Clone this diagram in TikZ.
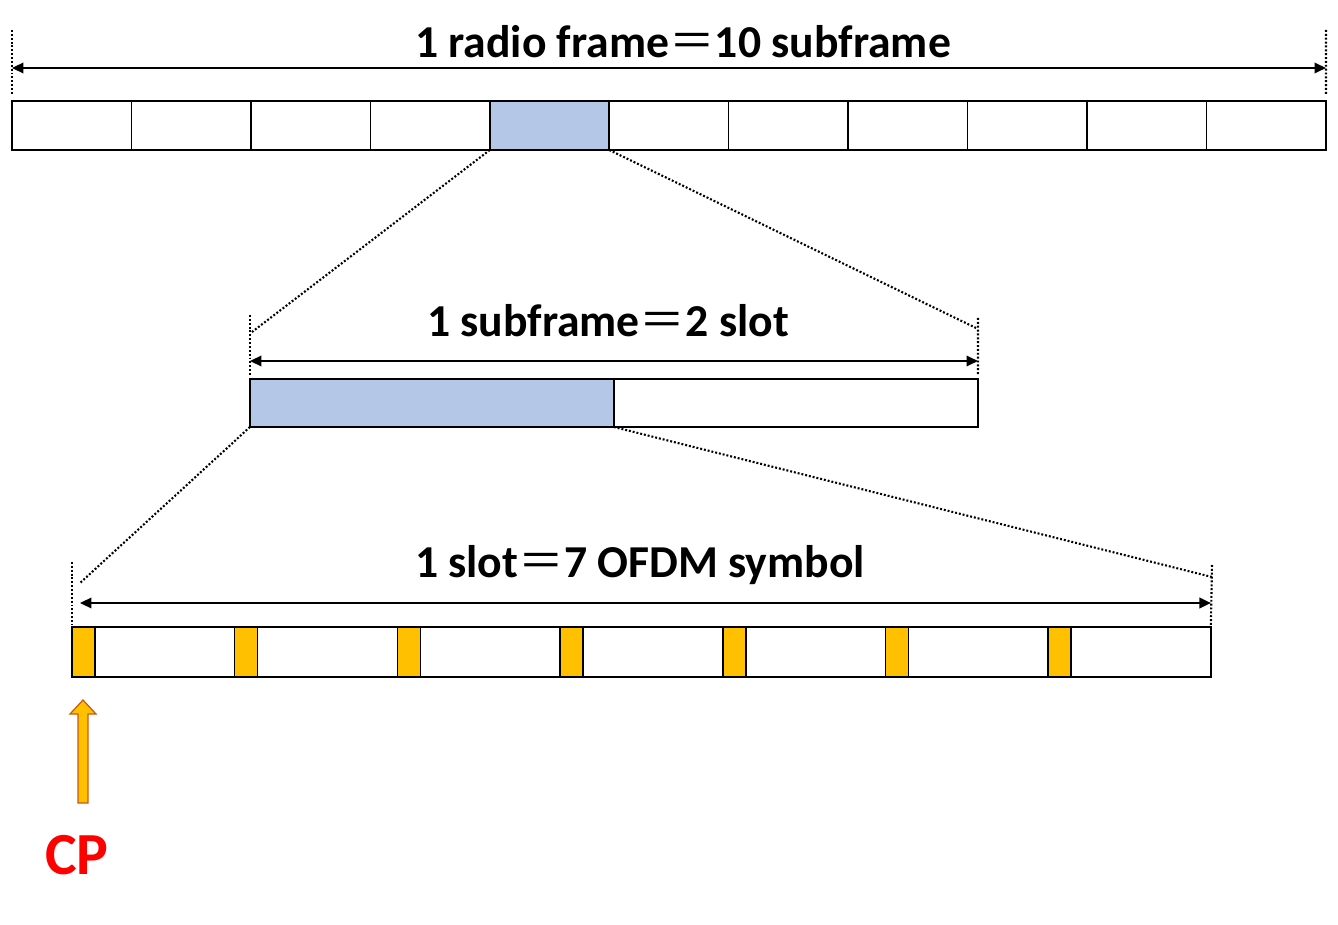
\documentclass[tikz,border=0pt]{standalone}
\usepackage{fontspec}
\setmainfont{Carlito}
\newfontfamily\cjkfont{Noto Sans CJK SC}
\usetikzlibrary{arrows.meta}
\definecolor{slotblue}{HTML}{B4C7E7}
\definecolor{cpyellow}{HTML}{FFC000}
\definecolor{cporange}{HTML}{C55A11}
\newcommand{\fweq}{{\cjkfont\mdseries ＝}}
\begin{document}
\begin{tikzpicture}[x=0.02cm,y=-0.02cm,
	cell/.style={draw,line width=0.85pt,inner sep=0pt,outer sep=0pt,anchor=north west},
	zoomline/.style={line width=1.2pt,dash pattern=on 1.1pt off 1.1pt},
	span/.style={{Triangle[length=6.5pt,width=6pt]}-{Triangle[length=6.5pt,width=6pt]},line width=1pt},
	lbl/.style={font=\bfseries\fontsize{26}{30}\selectfont}]
	\useasboundingbox (0,0) rectangle (1338,925);
	% radio frame
	\foreach \i in {0,...,10}
	\node[cell,minimum width=2.389cm,minimum height=0.98cm] (f\i) at ({12+119.45*\i},101) {};
	\node[cell,fill=slotblue,minimum width=2.389cm,minimum height=0.98cm] (f4) at ({12+119.45*4},101) {};
	\coordinate (fl) at (12,30); \coordinate (fr) at (1326,30);
	\draw[zoomline] (fl)--(f0.north west |- 0,95);
	\draw[zoomline] (fr)--(f10.north east |- 0,95);
	\draw[span] (f0.north west |- 0,68)--(f10.north east |- 0,68);
	\node[lbl] (ftext) at (683,42) {1 radio frame\fweq10 subframe};
	% subframe
	\node[cell,fill=slotblue,minimum width=7.28cm,minimum height=0.96cm] (s0) at (250,379) {};
	\node[cell,minimum width=7.28cm,minimum height=0.96cm] (s1) at (614,379) {};
	\coordinate (sl) at (250,315); \coordinate (sr) at (978,318);
	\draw[zoomline] (sl)--(s0.north west |- 0,375);
	\draw[zoomline] (sr)--(s1.north east |- 0,375);
	\draw[span] (s0.north west |- 0,361)--(s1.north east |- 0,361);
	\draw[zoomline] (f4.south west)--(252,332);
	\draw[zoomline] (f4.south east)--(976,328);
	\node[lbl] (stext) at (608,321) {1 subframe\fweq2 slot};
	% slot
	\foreach \i in {0,...,6}{
		\node[cell,minimum width=3.254cm,minimum height=1cm] (o\i) at ({72+162.7*\i},627) {};
		\node[cell,fill=cpyellow,minimum width=0.46cm,minimum height=1cm] (cp\i) at ({72+162.7*\i},627) {};
	}
	\coordinate (ol) at (72,562); \coordinate (or) at (1212,565);
	\draw[zoomline] (ol)--(o0.north west |- 0,625);
	\draw[zoomline] (or)--(o6.north east |- 0,625);
	\draw[span] (80,603)--(o6.north east |- 0,603);
	\draw[zoomline] (s0.south west)--(80,583);
	\draw[zoomline] (s0.south east)--(1212,577);
	\node[lbl] (otext) at (640,565) {1 slot\fweq7 OFDM symbol};
	% CP
	\draw[fill=cpyellow,draw=cporange,line width=0.7pt] (78,803)--(78,714)--(70,714)--(83,700)--(96,714)--(88,714)--(88,803)--cycle;
	\node[font=\bfseries\fontsize{34}{36}\selectfont,text=red] (cptext) at (77,855) {CP};
\end{tikzpicture}
\end{document}
